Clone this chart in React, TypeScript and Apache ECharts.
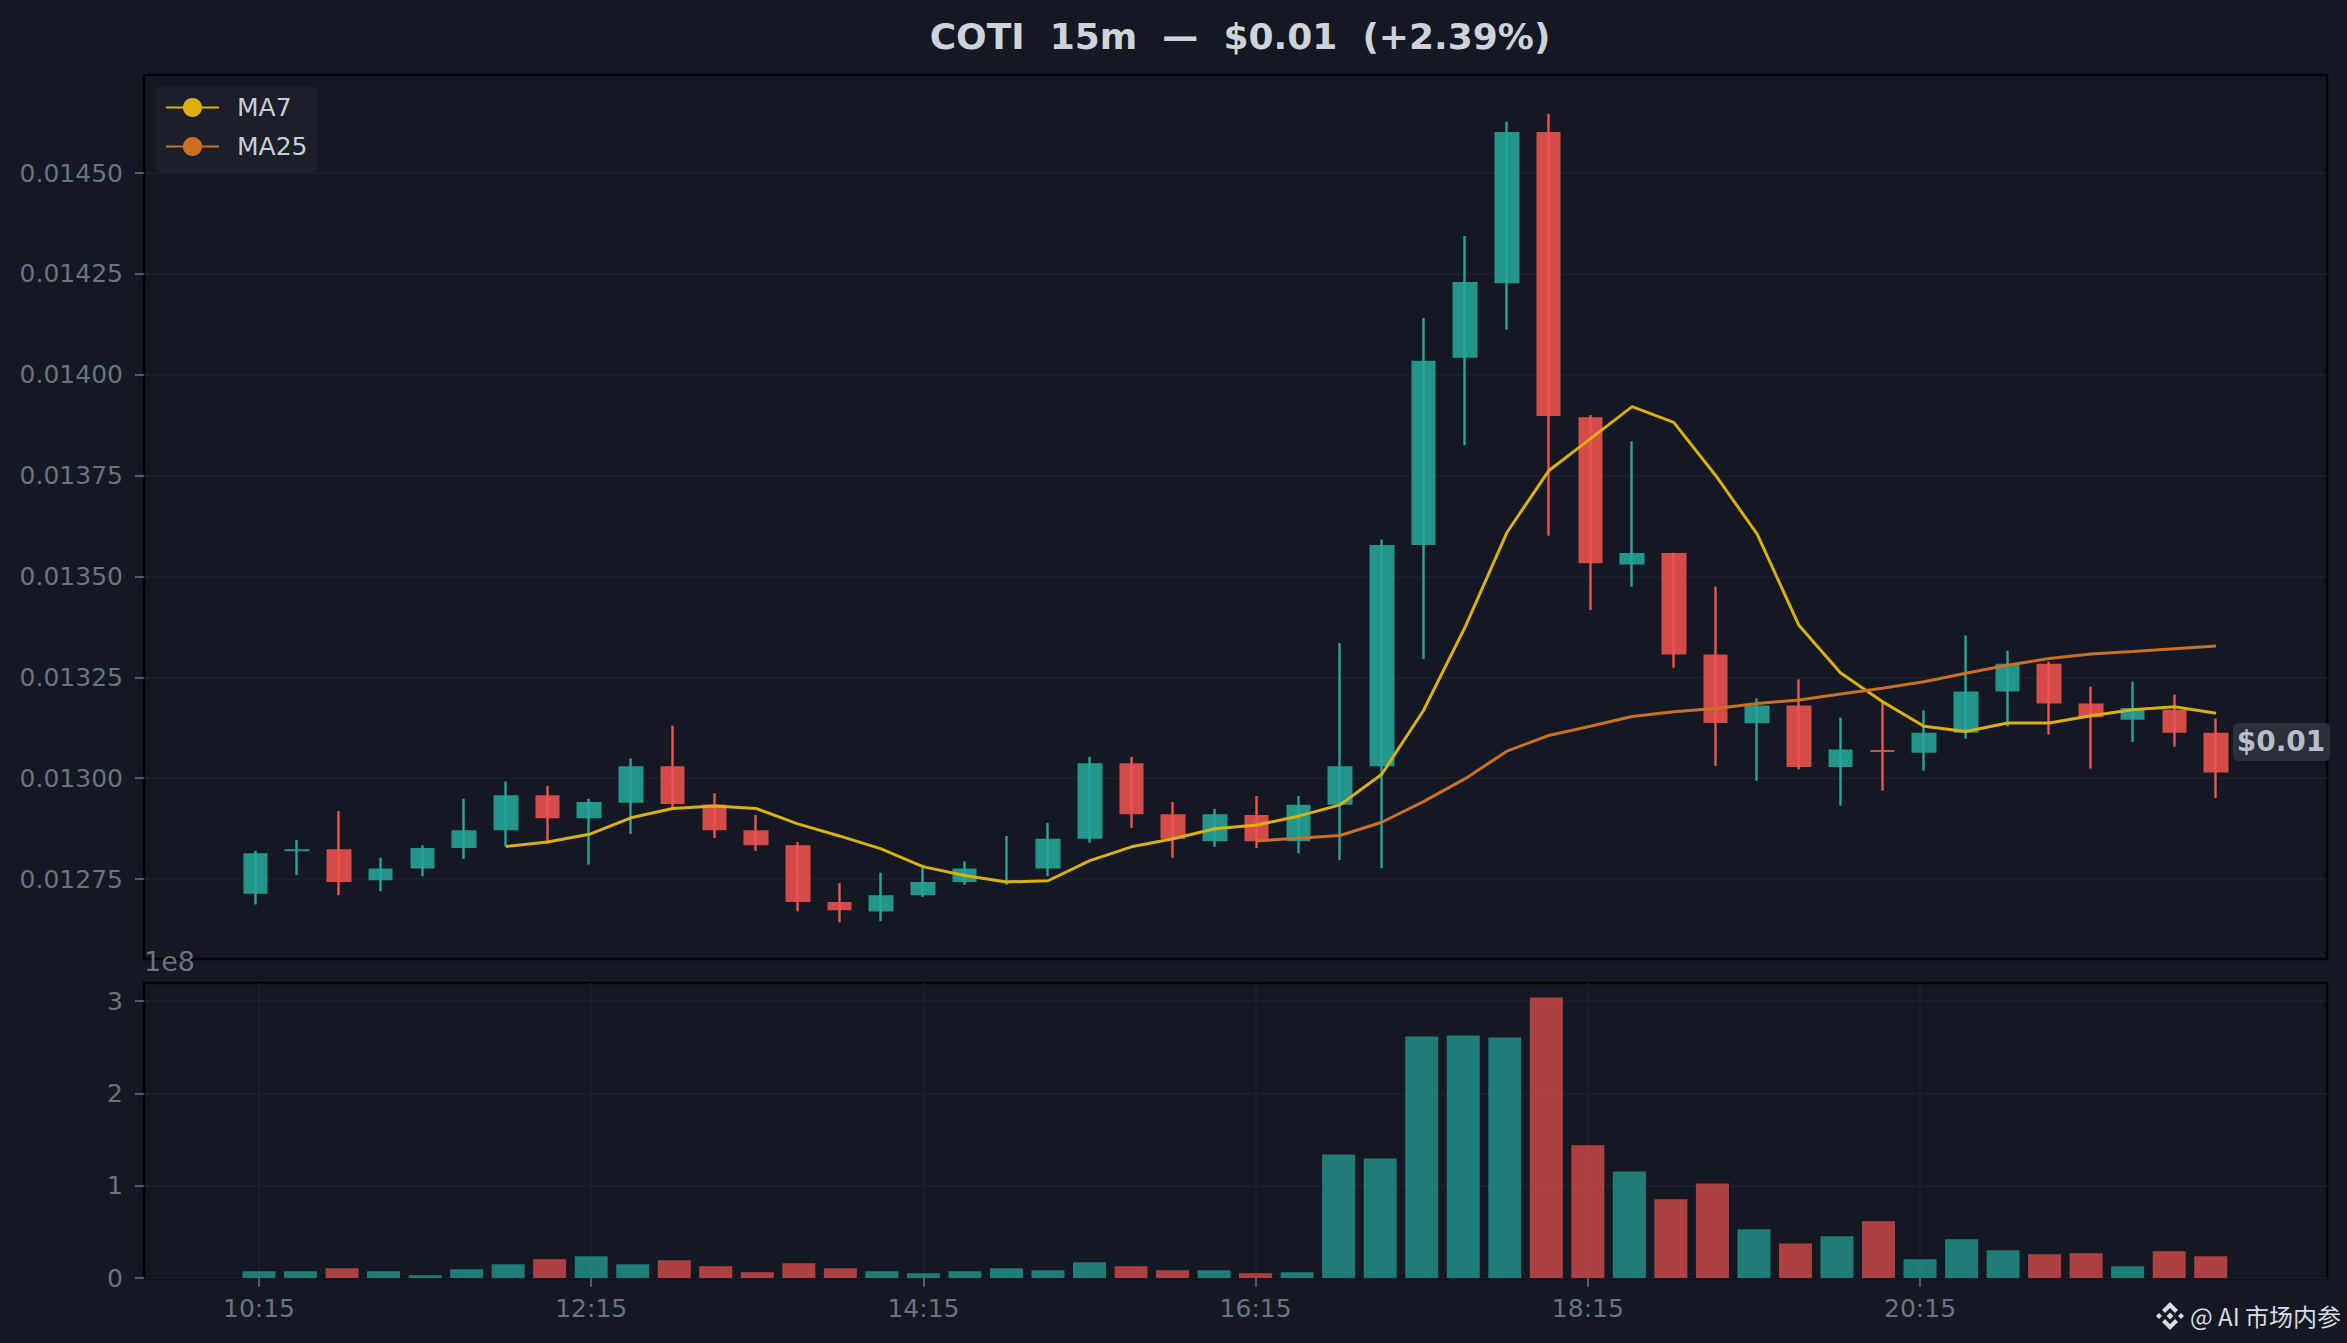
import React, { useEffect, useRef } from "react";
import * as echarts from "echarts";

const TITLE = "COTI  15m  —  $0.01  (+2.39%)";
const timeLabels = ["10:15", "12:15", "14:15", "16:15", "18:15", "20:15"];
const timeTickIndex = [0, 8, 16, 24, 32, 40];
const priceTicks = [0.01275, 0.013, 0.01325, 0.0135, 0.01375, 0.014, 0.01425, 0.0145];
const volumeTicks = [0, 1, 2, 3];

const opens = [
  0.012714, 0.012819, 0.012824, 0.012747, 0.012776, 0.012827, 0.012871, 0.012958, 0.012901, 0.012939,
  0.01303, 0.012935, 0.012871, 0.012834, 0.012693, 0.01267, 0.01271, 0.012743, 0.012743, 0.012776,
  0.01285, 0.013037, 0.012911, 0.012844, 0.012909, 0.012844, 0.012934, 0.01303, 0.013578, 0.014042,
  0.014227, 0.014602, 0.013895, 0.01353, 0.013558, 0.013307, 0.013136, 0.01318, 0.013028, 0.01307,
  0.013063, 0.013113, 0.013215, 0.013284, 0.013185, 0.013145, 0.01317, 0.013113,
];
const closes = [
  0.012814, 0.012824, 0.012743, 0.012776, 0.012827, 0.012871, 0.012958, 0.012901, 0.012941, 0.01303,
  0.012936, 0.012871, 0.012834, 0.012693, 0.012673, 0.01271, 0.012743, 0.012776, 0.012747, 0.01285,
  0.013037, 0.012911, 0.01285, 0.012911, 0.012844, 0.012934, 0.01303, 0.013578, 0.014035, 0.01423,
  0.014602, 0.013898, 0.013533, 0.013558, 0.013307, 0.013137, 0.01318, 0.013028, 0.013071, 0.013065,
  0.013113, 0.013215, 0.013284, 0.013185, 0.013151, 0.013174, 0.013113, 0.013014,
];
const lows = [
  0.012687, 0.01276, 0.01271, 0.01272, 0.012757, 0.0128, 0.012831, 0.012838, 0.012786, 0.012862,
  0.012926, 0.012852, 0.01282, 0.01267, 0.012643, 0.012646, 0.012706, 0.012736, 0.012736, 0.012757,
  0.01284, 0.012877, 0.012803, 0.01283, 0.012827, 0.012814, 0.012797, 0.012777, 0.013295, 0.013826,
  0.014112, 0.013601, 0.013417, 0.013475, 0.013274, 0.013031, 0.012994, 0.013022, 0.012932, 0.012969,
  0.013019, 0.013098, 0.013128, 0.013108, 0.013024, 0.01309, 0.013078, 0.012951,
];
const highs = [
  0.01282, 0.012847, 0.012919, 0.012803, 0.012834, 0.012949, 0.012992, 0.012981, 0.012949, 0.013049,
  0.01313, 0.012963, 0.012909, 0.012842, 0.01274, 0.012766, 0.012786, 0.012794, 0.012857, 0.012889,
  0.013053, 0.013053, 0.012941, 0.012924, 0.012956, 0.012956, 0.013335, 0.013592, 0.014141, 0.014344,
  0.014627, 0.014647, 0.0139, 0.013835, 0.013559, 0.013475, 0.013198, 0.013245, 0.01315, 0.013188,
  0.013168, 0.013354, 0.013316, 0.013289, 0.013227, 0.013239, 0.013207, 0.013148,
];
const volumes = [
  0.072, 0.072, 0.105, 0.072, 0.029, 0.094, 0.148, 0.202, 0.235, 0.148,
  0.191, 0.126, 0.061, 0.159, 0.105, 0.072, 0.051, 0.072, 0.105, 0.083,
  0.17, 0.126, 0.083, 0.083, 0.051, 0.061, 1.339, 1.296, 2.617, 2.628,
  2.606, 3.04, 1.437, 1.155, 0.852, 1.025, 0.527, 0.375, 0.451, 0.614,
  0.202, 0.419, 0.3, 0.256, 0.267, 0.126, 0.289, 0.235,
];
const ma7Start = 6;
const ma7 = [
  0.012831, 0.012842, 0.012861, 0.012902, 0.012925, 0.012931, 0.012925, 0.012887, 0.012857, 0.012825,
  0.012781, 0.012759, 0.012743, 0.012746, 0.012796, 0.01283, 0.01285, 0.012875, 0.012884, 0.012906,
  0.012934, 0.01301, 0.013168, 0.013375, 0.013609, 0.013762, 0.013841, 0.013921, 0.013882, 0.013751,
  0.013605, 0.013379, 0.013261, 0.01319, 0.013129, 0.013116, 0.013137, 0.013137, 0.013155, 0.01317,
  0.013177, 0.013161,
];
const ma25Start = 24;
const ma25 = [
  0.012845, 0.012851, 0.012858, 0.012891, 0.012942, 0.012999, 0.013067, 0.013106, 0.013129, 0.013153,
  0.013165, 0.013173, 0.013185, 0.013194, 0.013209, 0.013223, 0.013239, 0.01326, 0.01328, 0.013297,
  0.013308, 0.013314, 0.013321, 0.013328,
];

const FONT = "DejaVu Sans";
const BG = "#131823";
const TICK = "#6b7280";
const GRIDLINE = "#1c222d";
const UP = "#26a69a";
const DOWN = "#ef5350";

const LOGO_D =
  "M14 0L22 8L19 11L14 6L9 11L6 8ZM14 28L22 20L19 17L14 22L9 17L6 20ZM3 11L6 14L3 17L0 14ZM25 11L28 14L25 17L22 14ZM14 10.5L17.5 14L14 17.5L10.5 14Z";
echarts.graphic.registerShape("logo", echarts.graphic.extendPath(LOGO_D, {}) as any);

export default function App() {
  const ref = useRef<HTMLDivElement>(null);
  useEffect(() => {
    document.body.style.margin = "0";
    document.body.style.background = BG;
    const chart = echarts.init(ref.current!, undefined, { renderer: "svg" });
    const idx = opens.map((_, i) => i);
    const candleData = idx.map((i) => [i, opens[i], closes[i], lows[i], highs[i]]);
    const volumeData = idx.map((i) => ({
      value: [i, volumes[i]],
      itemStyle: { color: closes[i] >= opens[i] ? "rgba(38,166,154,0.7)" : "rgba(239,83,80,0.7)" },
    }));
    chart.setOption({
      animation: false,
      backgroundColor: BG,
      textStyle: { fontFamily: FONT },
      title: {
        text: TITLE,
        left: 1235,
        top: 13,
        textAlign: "center",
        textStyle: { color: "#ced2da", fontSize: 36, fontWeight: "bold", fontFamily: FONT },
      },
      legend: {
        data: ["MA7", "MA25"],
        orient: "vertical",
        left: 156,
        top: 87,
        padding: [8, 10, 13, 9],
        itemWidth: 53,
        itemHeight: 24,
        itemGap: 14,
        backgroundColor: "#1a1f2a",
        borderRadius: 4,
        textStyle: { color: "#c9ced6", fontSize: 25, fontFamily: FONT, padding: [0, 0, 0, 13] },
      },
      grid: [
        { left: 144, top: 75, width: 2183, height: 884, show: true, borderColor: "#000", borderWidth: 2.5, backgroundColor: "transparent" },
        { left: 144, top: 983, width: 2183, height: 295, show: true, borderColor: "#000", borderWidth: 2.5, backgroundColor: "transparent" },
      ],
      xAxis: [
        { type: "value", gridIndex: 0, min: -2.673, max: 49.66, show: false },
        {
          type: "value",
          gridIndex: 1,
          min: -2.769,
          max: 49.8,
          axisLine: { show: false, onZero: false },
          axisTick: { show: true, length: 9, customValues: timeTickIndex, lineStyle: { color: TICK, width: 1.5 } },
          axisLabel: {
            show: true,
            customValues: timeTickIndex,
            margin: 18,
            color: TICK,
            fontSize: 25,
            fontFamily: FONT,
            formatter: (v: number) => timeLabels[timeTickIndex.indexOf(v)] ?? "",
          },
          splitLine: { show: true, lineStyle: { color: GRIDLINE, width: 1.5 } },
        },
      ],
      yAxis: [
        {
          type: "value",
          gridIndex: 0,
          min: 0.012552,
          max: 0.014743,
          axisLine: { show: false, onZero: false },
          axisTick: { show: true, length: 9, customValues: priceTicks, lineStyle: { color: TICK, width: 1.5 } },
          axisLabel: {
            show: true,
            customValues: priceTicks,
            margin: 21,
            color: TICK,
            fontSize: 25,
            fontFamily: FONT,
            formatter: (v: number) => v.toFixed(5),
          },
          splitLine: { show: true, lineStyle: { color: GRIDLINE, width: 1.5 } },
        },
        {
          type: "value",
          gridIndex: 1,
          min: 0,
          max: 3.196,
          name: "1e8",
          nameLocation: "end",
          nameGap: 8,
          nameTextStyle: { color: TICK, fontSize: 27, fontFamily: FONT, align: "left", verticalAlign: "bottom" },
          axisLine: { show: false, onZero: false },
          axisTick: { show: true, length: 9, customValues: volumeTicks, lineStyle: { color: TICK, width: 1.5 } },
          axisLabel: {
            show: true,
            customValues: volumeTicks,
            margin: 21,
            color: TICK,
            fontSize: 25,
            fontFamily: FONT,
            formatter: (v: number) => String(v),
          },
          splitLine: { show: true, lineStyle: { color: GRIDLINE, width: 1.5 } },
        },
      ],
      series: [
        {
          name: "Candle bodies",
          type: "candlestick",
          xAxisIndex: 0,
          yAxisIndex: 0,
          barWidth: 25,
          z: 3,
          itemStyle: {
            color: "rgba(38,166,154,0.88)",
            color0: "rgba(239,83,80,0.88)",
            borderColor: "rgba(0,0,0,0)",
            borderColor0: "rgba(0,0,0,0)",
            borderWidth: 0,
          },
          data: candleData,
          silent: true,
        },
        {
          name: "Candle wicks",
          type: "candlestick",
          xAxisIndex: 0,
          yAxisIndex: 0,
          barWidth: 0,
          z: 4,
          itemStyle: { color: UP, color0: DOWN, borderColor: UP, borderColor0: DOWN, borderWidth: 2.4 },
          data: candleData,
          silent: true,
          markLine: {
            silent: true,
            symbol: "none",
            label: { show: false },
            lineStyle: { color: "rgba(156,163,175,0.65)", type: [9, 4], width: 1.8 },
            data: [{ yAxis: closes[closes.length - 1] }],
          },
        },
        {
          name: "MA7",
          type: "line",
          xAxisIndex: 0,
          yAxisIndex: 0,
          z: 5,
          symbol: "none",
          showSymbol: false,
          smooth: false,
          lineStyle: { color: "#dbaf0c", width: 3 },
          itemStyle: { color: "#dbaf0c" },
          data: ma7.map((v, i) => [i + ma7Start, v]),
        },
        {
          name: "MA25",
          type: "line",
          xAxisIndex: 0,
          yAxisIndex: 0,
          z: 5,
          symbol: "none",
          showSymbol: false,
          smooth: false,
          lineStyle: { color: "#cb7020", width: 3 },
          itemStyle: { color: "#cb7020" },
          data: ma25.map((v, i) => [i + ma25Start, v]),
        },
        {
          name: "Volume",
          type: "bar",
          xAxisIndex: 1,
          yAxisIndex: 1,
          barWidth: 33,
          z: 3,
          data: volumeData,
        },
      ],
      graphic: [
        {
          type: "rect",
          z: 20,
          shape: { x: 2233, y: 723, width: 97, height: 38, r: 5 },
          style: { fill: "#2a2f3a" },
        },
        {
          type: "text",
          z: 21,
          x: 2281,
          y: 741,
          style: {
            text: "$0.01",
            fill: "#b9bdc8",
            font: `bold 28px "${FONT}"`,
            align: "center",
            verticalAlign: "middle",
          },
        },
        {
          type: "logo",
          z: 21,
          x: 2156,
          y: 1302,
          style: { fill: "#d8dce3" },
        },
        {
          type: "text",
          z: 21,
          x: 2190,
          y: 1315,
          style: {
            text: "@ AI 市场内参",
            fill: "#d8dce3",
            font: '24px "Noto Sans CJK SC"',
            align: "left",
            verticalAlign: "middle",
          },
        },
      ],
    });
    return () => chart.dispose();
  }, []);
  return <div ref={ref} style={{ width: 2347, height: 1343 }} />;
}
